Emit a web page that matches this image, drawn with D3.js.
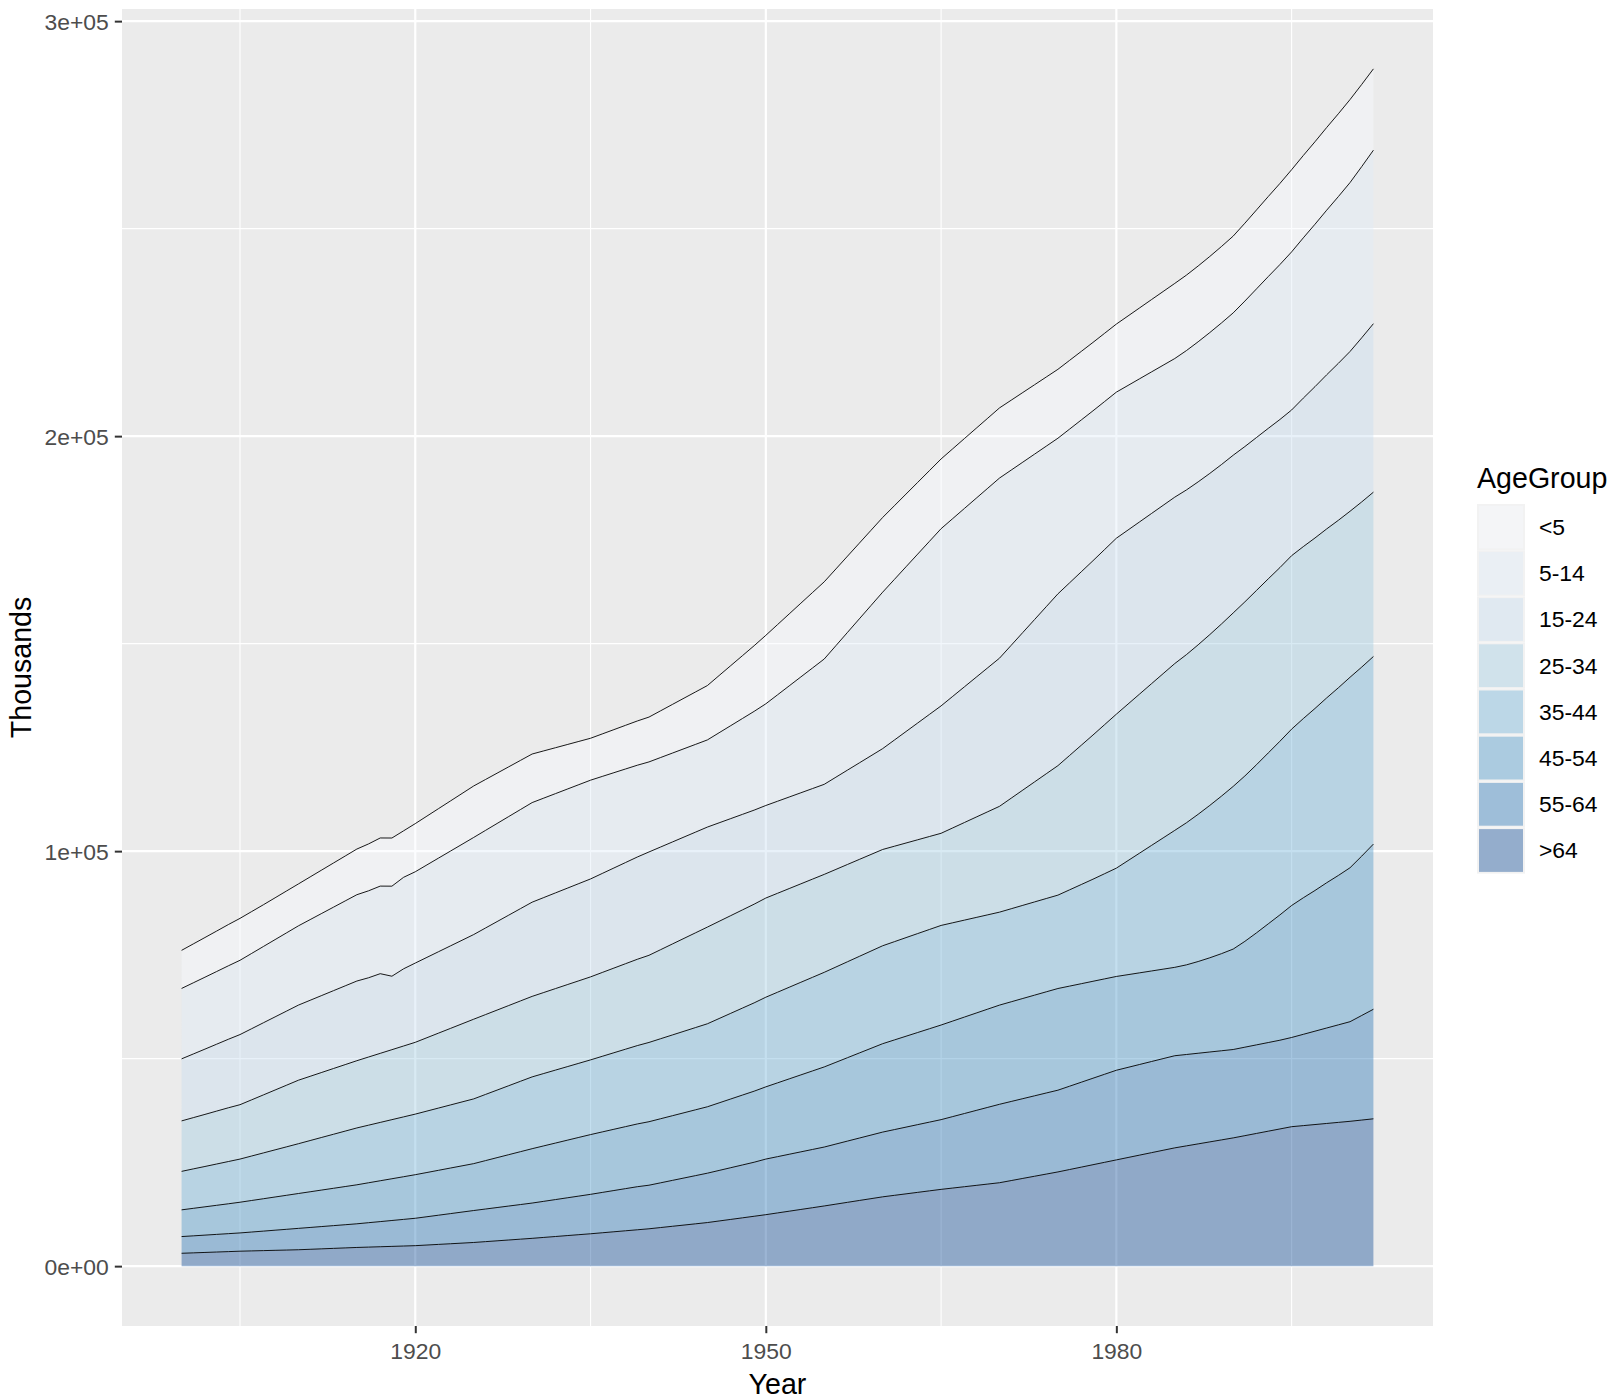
<!DOCTYPE html>
<html><head><meta charset="utf-8">
<script src="https://cdn.jsdelivr.net/npm/d3@7"></script>
<style>body{margin:0;background:#fff} svg{display:block}</style>
</head><body>
<svg id="chart" width="1623" height="1399"></svg>
<script>
const years = d3.range(1900, 2003);
const ageGroups = ["<5","5-14","15-24","25-34","35-44","45-54","55-64",">64"];

const under5 = [9181,9370,9560,9750,9940,10100,10080,10060,10070,10090,10100,10280,10460,10640,10820,11000,11300,11600,11600,11200,11600,11760,11920,12080,12240,12400,12260,12120,11980,11840,11700,11380,11060,10740,10420,10100,10240,10380,10520,10660,10800,11260,11720,12180,12640,13100,13780,14460,15140,15820,16500,16920,17340,17760,18180,18600,18480,18360,18240,18120,18000,17760,17520,17280,17040,16800,16820,16840,16860,16880,16900,16840,16780,16720,16660,16600,16560,16520,16480,16440,16400,16740,17080,17420,17760,18100,18180,18260,18340,18420,18500,18760,19020,19280,19540,19800,19840,19880,19920,19960,20000,19800,19600];
const age5to14 = [16966,17150,17330,17510,17700,17900,18140,18380,18620,18860,19100,19440,19780,20120,20460,20800,20950,21100,21700,22050,22000,22280,22560,22840,23120,23400,23520,23640,23760,23880,24000,23960,23920,23880,23840,23800,23380,22960,22540,22120,21700,21560,21420,21280,21140,21000,21700,22400,23100,23800,24500,25640,26780,27920,29060,30200,31700,33200,34700,36200,37700,38700,39700,40700,41700,42700,42840,42980,43120,43260,43400,42220,41040,39860,38680,37500,37040,36580,36120,35660,35200,34840,34480,34120,33760,33400,33580,33760,33940,34120,34300,35060,35820,36580,37340,38100,38620,39140,39660,40180,40700,41250,41800];
const age15to24 = [14951,15340,15730,16120,16510,16900,17140,17380,17620,17860,18100,18320,18540,18760,18980,19200,19100,19200,17700,18600,19100,19360,19620,19880,20140,20400,20860,21320,21780,22240,22700,22880,23060,23240,23420,23600,23860,24120,24380,24640,24900,24740,24580,24420,24260,24100,23740,23380,23020,22660,22300,22180,22060,21940,21820,21700,22220,22740,23260,23780,24300,25580,26860,28140,29420,30700,31700,32700,33700,34700,35700,36840,37980,39120,40260,41400,41600,41800,42000,42200,42400,41940,41480,41020,40560,40100,39680,39260,38840,38420,38000,37420,36840,36260,35680,35100,35780,36460,37140,37820,38500,39550,40600];
const age25to34 = [12161,12350,12550,12750,12950,13100,13540,13980,14420,14860,15300,15480,15660,15840,16020,16200,16420,16640,16860,17080,17300,17680,18060,18440,18820,19200,19240,19280,19320,19360,19400,19520,19640,19760,19880,20000,20200,20400,20600,20800,21000,21460,21920,22380,22840,23300,23420,23540,23660,23780,23900,23840,23780,23720,23660,23600,23520,23440,23360,23280,23200,23000,22800,22600,22400,22200,22860,23520,24180,24840,25500,26640,27780,28920,30060,31200,32380,33560,34740,35920,37100,37720,38340,38960,39580,40200,40520,40840,41160,41480,41800,41950,42000,41950,41850,41800,41440,41080,40720,40360,40000,39800,39600];
const age35to44 = [9273,9500,9720,9950,10180,10400,10720,11040,11360,11680,12000,12340,12680,13020,13360,13700,13880,14060,14240,14420,14600,14800,15000,15200,15400,15600,15940,16280,16620,16960,17300,17440,17580,17720,17860,18000,18220,18440,18660,18880,19100,19280,19460,19640,19820,20000,20320,20640,20960,21280,21600,21840,22080,22320,22560,22800,22960,23120,23280,23440,23600,23680,23760,23840,23920,24000,23680,23360,23040,22720,22400,22420,22440,22460,22480,22500,23200,23900,24600,25350,26100,27480,28860,30240,31620,33000,34240,35480,36720,37960,39200,39860,40520,41180,41840,42500,43180,43860,44540,45220,45900,45550,45200];
const age45to54 = [6437,6630,6820,7010,7200,7400,7600,7800,8000,8200,8400,8600,8800,9000,9200,9400,9620,9840,10060,10280,10500,10660,10820,10980,11140,11300,11660,12020,12380,12740,13100,13360,13620,13880,14140,14400,14580,14760,14940,15120,15300,15440,15580,15720,15860,16000,16280,16560,16840,17120,17400,17780,18160,18540,18920,19300,19700,20100,20500,20900,21300,21600,21900,22200,22500,22800,23020,23240,23460,23680,23900,24020,24140,24260,24380,24500,24120,23740,23360,22980,22600,22340,22080,21820,21560,21300,21600,22100,22700,23400,24200,25500,27000,28600,30200,31800,32900,33900,35000,36000,37100,38400,39800];
const age55to64 = [4026,4100,4175,4250,4325,4400,4550,4700,4850,5000,5150,5260,5370,5480,5590,5700,5880,6060,6240,6420,6600,6820,7040,7260,7480,7700,7860,8020,8180,8340,8500,8700,8900,9100,9300,9500,9720,9940,10160,10380,10500,10780,11060,11340,11620,11900,12180,12460,12740,13020,13400,13560,13720,13880,14040,14200,14480,14760,15040,15320,15600,15840,16080,16320,16560,16800,17220,17640,18060,18480,18900,19060,19220,19380,19540,19700,20080,20460,20840,21220,21600,21720,21840,21960,22080,22200,22020,21840,21660,21480,21300,21320,21340,21360,21380,21500,22000,22500,23000,23500,24000,25200,26400];
const over64 = [3099,3199,3299,3400,3500,3600,3670,3740,3810,3880,3950,4060,4170,4280,4390,4500,4587,4673,4760,4846,4933,5086,5240,5393,5547,5700,5900,6100,6300,6500,6700,6920,7140,7360,7580,7800,8040,8280,8520,8760,9000,9300,9600,9900,10200,10500,10880,11260,11640,12020,12400,12820,13240,13660,14080,14500,14940,15380,15820,16260,16700,17060,17420,17780,18140,18500,18820,19140,19460,19780,20100,20620,21140,21660,22180,22700,23280,23860,24440,25020,25600,26180,26760,27340,27920,28500,28980,29460,29940,30420,30900,31440,31980,32520,33060,33600,33860,34120,34380,34640,34900,35200,35500];

const xTicks = [1920, 1950, 1980];
const xTickLabels = ["1920", "1950", "1980"];
const xMinor = [1905, 1935, 1965, 1995];
const yTicks = [0, 100000, 200000, 300000];
const yTickLabels = ["0e+00", "1e+05", "2e+05", "3e+05"];
const yMinor = [50000, 150000, 250000];
const palette = ["#F7FBFF","#DEEBF7","#C6DBEF","#9ECAE1","#6BAED6","#4292C6","#2171B5","#084594"];

const seriesByGroup = {"<5":under5,"5-14":age5to14,"15-24":age15to24,"25-34":age25to34,
  "35-44":age35to44,"45-54":age45to54,"55-64":age55to64,">64":over64};
const table = years.map((yr, i) => {
  const r = {Year: yr};
  ageGroups.forEach(g => r[g] = seriesByGroup[g][i]);
  return r;
});

const FONT = "'Liberation Sans', Arial, Helvetica, sans-serif";
const svg = d3.select("#chart");
const panel = {left: 122, right: 1433, top: 9, bottom: 1326};

const stackKeys = ageGroups.slice().reverse();
const stacked = d3.stack().keys(stackKeys)(table);
const maxTotal = d3.max(stacked[stacked.length - 1], d => d[1]);
const xExt = d3.extent(years);
const xPad = (xExt[1] - xExt[0]) * 0.05;
const x = d3.scaleLinear().domain([xExt[0] - xPad, xExt[1] + xPad]).range([panel.left, panel.right]);
const y = d3.scaleLinear().domain([-0.05 * maxTotal, 1.05 * maxTotal]).range([panel.bottom, panel.top]);
const color = d3.scaleOrdinal().domain(ageGroups).range(palette);

// panel background
svg.append("rect").attr("x", panel.left).attr("y", panel.top)
  .attr("width", panel.right - panel.left).attr("height", panel.bottom - panel.top)
  .attr("fill", "#EBEBEB");

const grid = svg.append("g");
grid.selectAll(".ymin").data(yMinor).join("line")
  .attr("x1", panel.left).attr("x2", panel.right)
  .attr("y1", d => y(d)).attr("y2", d => y(d))
  .attr("stroke", "#fff").attr("stroke-width", 1.1);
grid.selectAll(".xmin").data(xMinor).join("line")
  .attr("y1", panel.top).attr("y2", panel.bottom)
  .attr("x1", d => x(d)).attr("x2", d => x(d))
  .attr("stroke", "#fff").attr("stroke-width", 1.1);
grid.selectAll(".ymaj").data(yTicks).join("line")
  .attr("x1", panel.left).attr("x2", panel.right)
  .attr("y1", d => y(d)).attr("y2", d => y(d))
  .attr("stroke", "#fff").attr("stroke-width", 2.2);
grid.selectAll(".xmaj").data(xTicks).join("line")
  .attr("y1", panel.top).attr("y2", panel.bottom)
  .attr("x1", d => x(d)).attr("x2", d => x(d))
  .attr("stroke", "#fff").attr("stroke-width", 2.2);

// areas
const area = d3.area().x(d => x(d.data.Year)).y0(d => y(d[0])).y1(d => y(d[1]));
const line = d3.line().x(d => x(d.data.Year)).y(d => y(d[1]));
svg.append("g").selectAll("path").data(stacked).join("path")
  .attr("d", area).attr("fill", s => color(s.key)).attr("fill-opacity", 0.4);
svg.append("g").selectAll("path").data(stacked).join("path")
  .attr("d", line).attr("fill", "none").attr("stroke", "#000").attr("stroke-width", 0.9);

// axes
const yAxis = svg.append("g").attr("transform", `translate(${panel.left},0)`)
  .call(d3.axisLeft(y).tickValues(yTicks).tickFormat((d, i) => yTickLabels[i]).tickSize(7.2).tickPadding(6));
const xAxis = svg.append("g").attr("transform", `translate(0,${panel.bottom})`)
  .call(d3.axisBottom(x).tickValues(xTicks).tickFormat((d, i) => xTickLabels[i]).tickSize(7.2).tickPadding(6));
[yAxis, xAxis].forEach(a => {
  a.select(".domain").remove();
  a.selectAll(".tick line").attr("stroke", "#333333").attr("stroke-width", 2);
  a.selectAll(".tick text").attr("fill", "#4D4D4D").style("font-family", FONT).style("font-size", "22.9px");
});
yAxis.selectAll(".tick text").attr("dy", null).attr("dominant-baseline", "central");
xAxis.selectAll(".tick text").attr("dy", null).attr("y", 25).attr("dominant-baseline", "central");

// axis titles
svg.append("text").attr("x", (panel.left + panel.right) / 2).attr("y", 1384)
  .attr("text-anchor", "middle").attr("dominant-baseline", "central")
  .style("font-family", FONT).style("font-size", "28.6px").attr("fill", "#000").text("Year");
svg.append("text").attr("transform", `translate(21,${(panel.top + panel.bottom) / 2}) rotate(-90)`)
  .attr("text-anchor", "middle").attr("dominant-baseline", "central")
  .style("font-family", FONT).style("font-size", "28.6px").attr("fill", "#000").text("Thousands");

// legend
const lg = svg.append("g");
lg.append("text").attr("x", 1477).attr("y", 488)
  .style("font-family", FONT).style("font-size", "28.6px").attr("fill", "#000").text("AgeGroup");
const keyTop = 504, pitch = 46.2;
const items = lg.selectAll(".key").data(ageGroups).join("g")
  .attr("transform", (d, i) => `translate(0,${keyTop + i * pitch})`);
items.append("rect").attr("x", 1477).attr("y", 0).attr("width", 48).attr("height", pitch).attr("fill", "#F2F2F2");
items.append("rect").attr("x", 1479).attr("y", 1.7).attr("width", 44).attr("height", pitch - 3.4)
  .attr("fill", d => color(d)).attr("fill-opacity", 0.4);
items.append("text").attr("x", 1539).attr("y", pitch / 2).attr("dominant-baseline", "central")
  .style("font-family", FONT).style("font-size", "22.9px").attr("fill", "#000").text(d => d);
</script>
</body></html>
